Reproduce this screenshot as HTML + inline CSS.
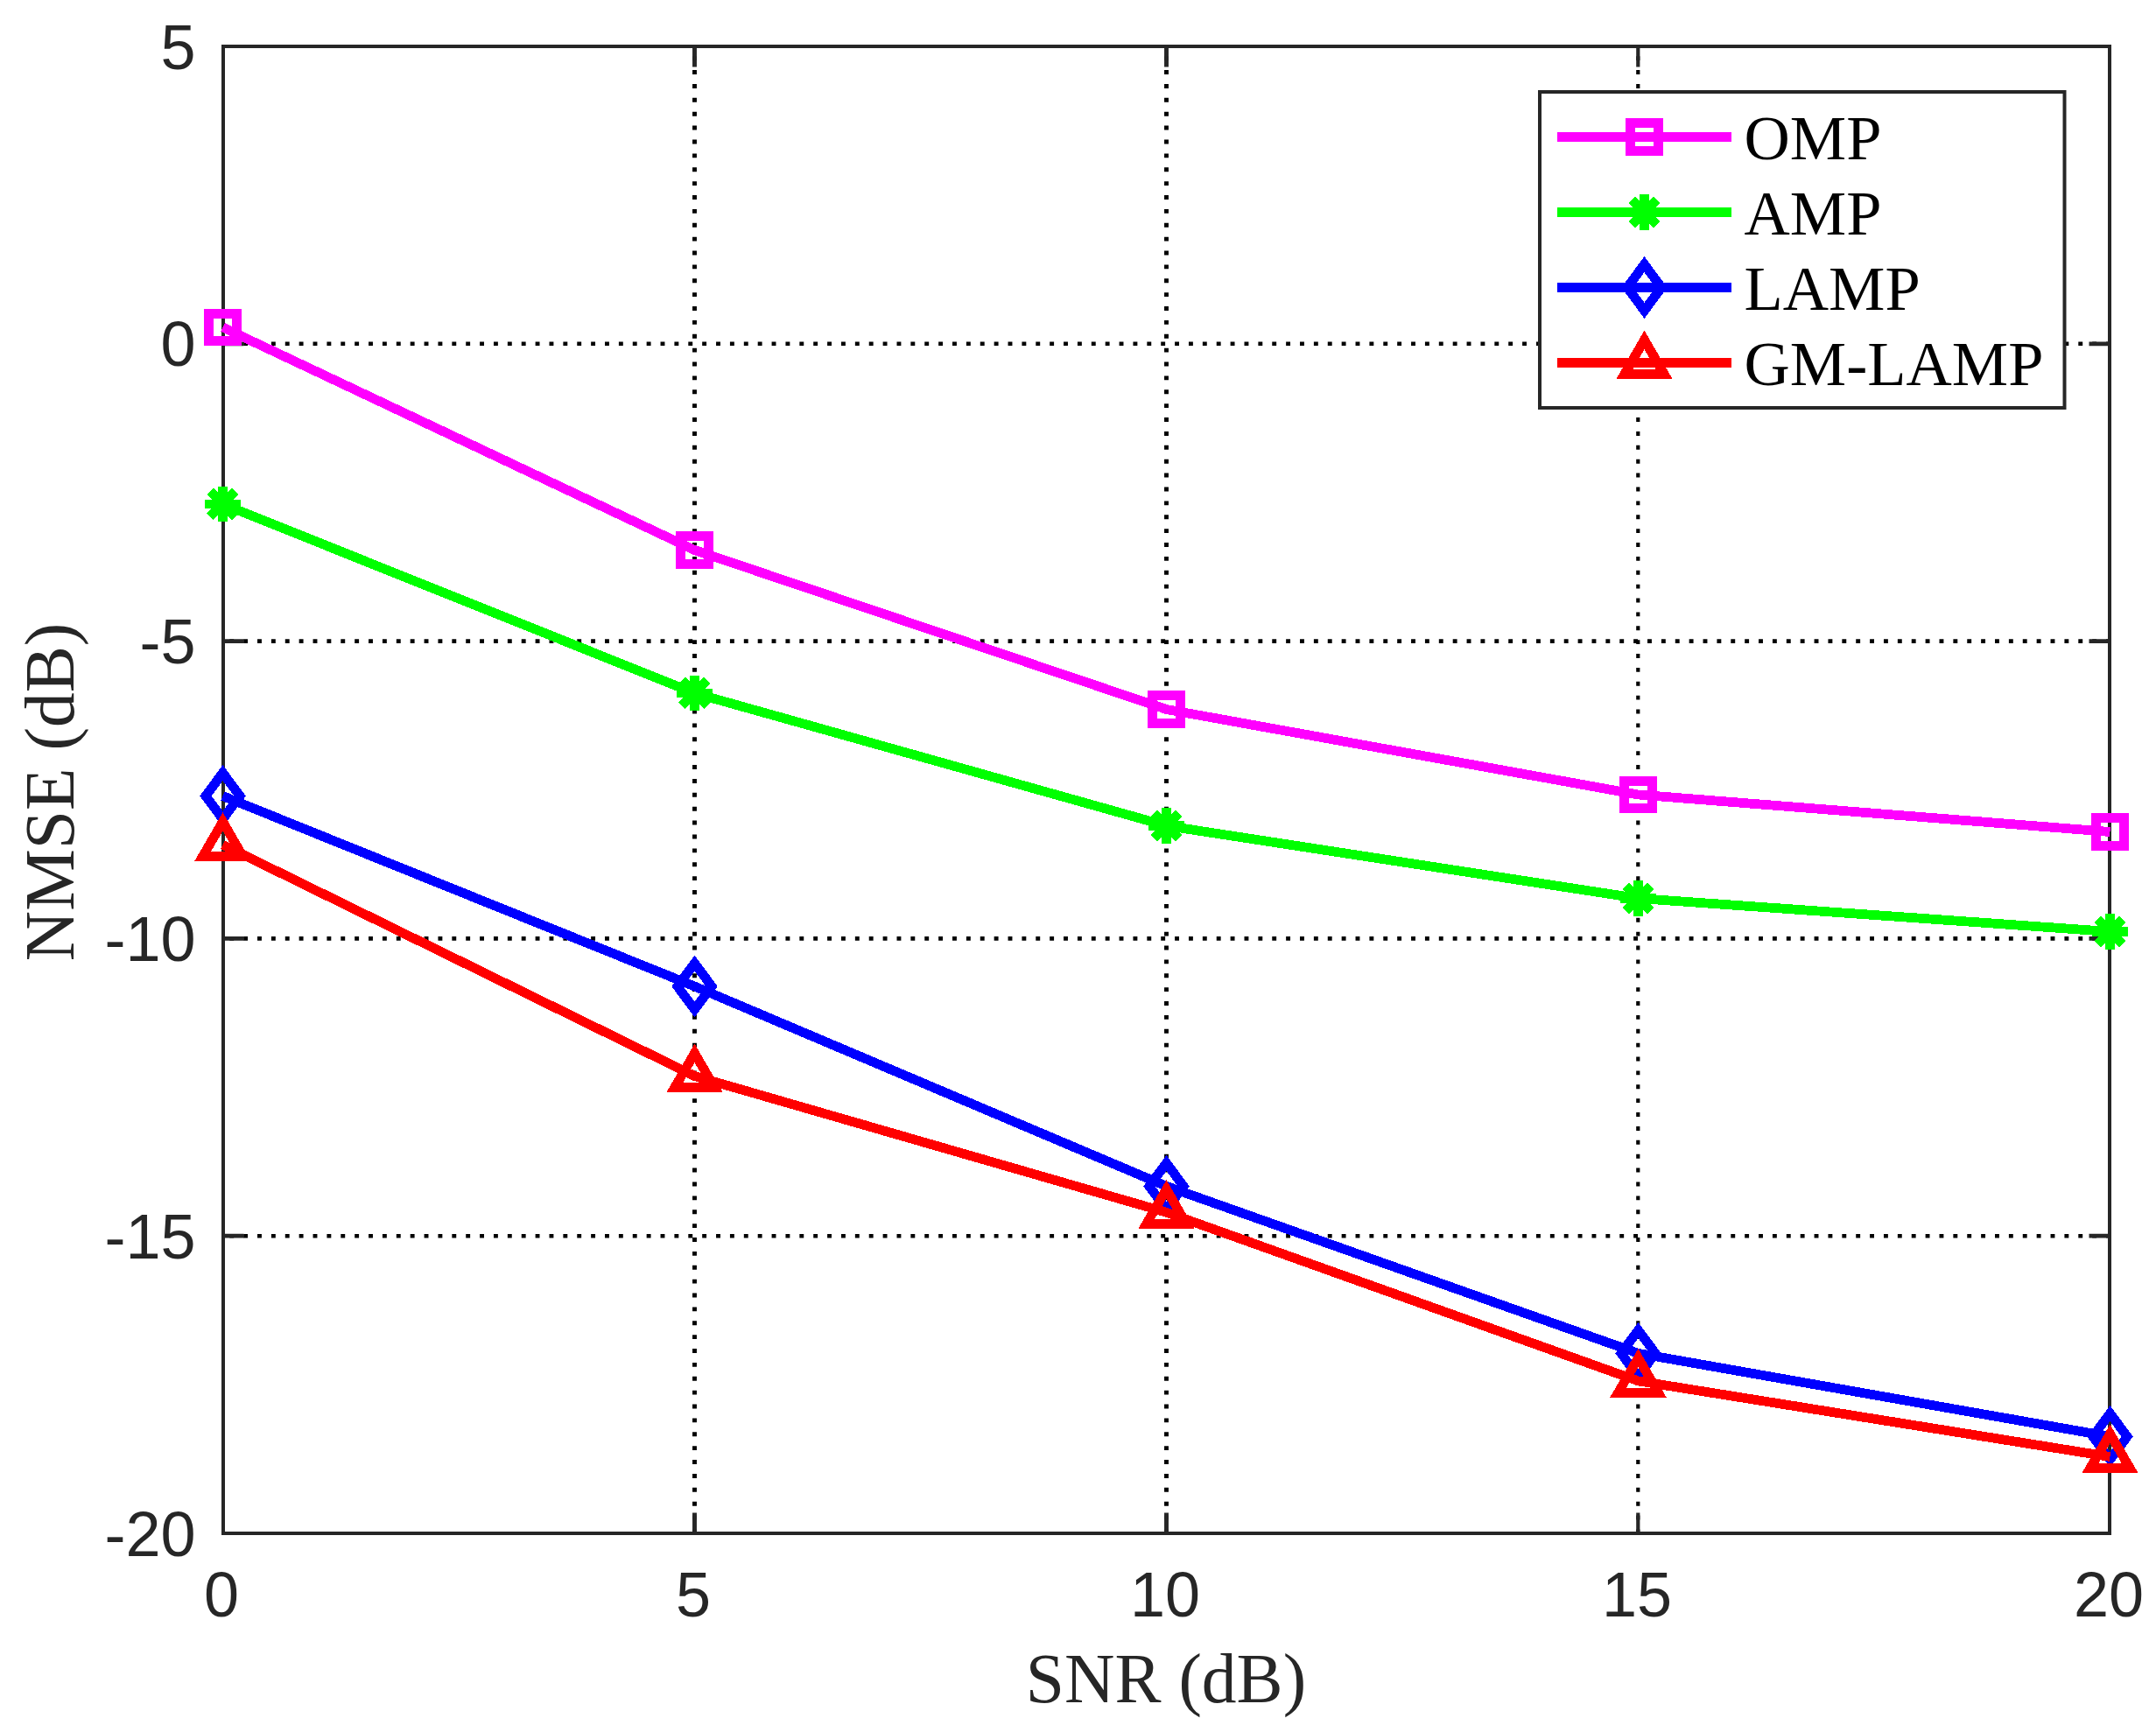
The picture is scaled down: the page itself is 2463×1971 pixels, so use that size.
<!DOCTYPE html>
<html lang="en"><head><meta charset="utf-8"><title>NMSE (dB) versus SNR (dB)</title>
<style>html,body{margin:0;padding:0;background:#fff}body{width:2463px;height:1971px;overflow:hidden}svg{display:block}.tk{font-family:"Liberation Sans",sans-serif;font-size:72px;fill:#262626}.lb{font-family:"Liberation Serif",serif;font-size:79.5px;fill:#262626}.lg{font-family:"Liberation Serif",serif;font-size:72.4px;fill:#000}</style></head><body>
<svg width="2463" height="1971" viewBox="0 0 2463 1971">
<rect width="2463" height="1971" fill="#fff"/>
<g stroke="#000" stroke-width="4.6" fill="none" stroke-dasharray="4.9 10.98">
<path d="M793.5 53V1752" stroke-dashoffset="4.66" stroke-width="4.9"/>
<path d="M1332.5 53V1752" stroke-dashoffset="4.66" stroke-width="4.9"/>
<path d="M1871.3 53V1752" stroke-dashoffset="4.66" stroke-width="4.2"/>
<path d="M255 392.8H2410" stroke-dashoffset="8.62"/>
<path d="M255 732.6H2410" stroke-dashoffset="8.62"/>
<path d="M255 1072.4H2410" stroke-dashoffset="8.62"/>
<path d="M255 1412.2H2410" stroke-dashoffset="8.62"/>
</g>
<g stroke="#262626" stroke-width="4" fill="none">
<rect x="255" y="53" width="2155" height="1699"/>
<path stroke-width="4.9" d="M793.5 53v23.5M793.5 1752v-23.5"/>
<path stroke-width="4.9" d="M1332.5 53v23.5M1332.5 1752v-23.5"/>
<path stroke-width="4.2" d="M1871.3 53v23.5M1871.3 1752v-23.5"/>
<path stroke-width="4.7" d="M255 392.8h23.5M2410 392.8h-23.5M255 732.6h23.5M2410 732.6h-23.5M255 1072.4h23.5M2410 1072.4h-23.5M255 1412.2h23.5M2410 1412.2h-23.5"/>
</g>
<g class="tk" text-anchor="end">
<text x="223.5" y="78.6">5</text>
<text x="223.5" y="418.4">0</text>
<text x="223.5" y="758.2">-5</text>
<text x="223.5" y="1098">-10</text>
<text x="223.5" y="1437.8">-15</text>
<text x="223.5" y="1777.6">-20</text>
</g>
<g class="tk" text-anchor="middle">
<text x="253.1" y="1847">0</text>
<text x="792.1" y="1847">5</text>
<text x="1331.1" y="1847">10</text>
<text x="1870.1" y="1847">15</text>
<text x="2409.1" y="1847">20</text>
</g>
<text class="lb" text-anchor="middle" x="1332" y="1945.2">SNR (dB)</text>
<text class="lb" text-anchor="middle" transform="translate(83.7 905) rotate(-90)">NMSE (dB)</text>
<g shape-rendering="crispEdges" stroke-linejoin="miter" stroke-linecap="butt">
<rect x="238.5" y="358.25" width="32" height="31.5" fill="none" stroke="#ff00ff" stroke-width="10.8"/>
<rect x="777.5" y="612.75" width="32" height="31.5" fill="none" stroke="#ff00ff" stroke-width="10.8"/>
<rect x="1316.5" y="794.75" width="32" height="31.5" fill="none" stroke="#ff00ff" stroke-width="10.8"/>
<rect x="1855.5" y="892.25" width="32" height="31.5" fill="none" stroke="#ff00ff" stroke-width="10.8"/>
<rect x="2394.5" y="934.75" width="32" height="31.5" fill="none" stroke="#ff00ff" stroke-width="10.8"/>
<polyline points="254.5,374 793.5,628.5 1332.5,810.5 1871.5,908 2410.5,950.5" fill="none" stroke="#ff00ff" stroke-width="10.8"/>
<path d="M234.2 576H274.8M254.5 555.7V596.3M240.15 561.65L268.85 590.35M240.15 590.35L268.85 561.65" fill="none" stroke="#00ff00" stroke-width="10.6"/>
<path d="M773.2 792H813.8M793.5 771.7V812.3M779.15 777.65L807.85 806.35M779.15 806.35L807.85 777.65" fill="none" stroke="#00ff00" stroke-width="10.6"/>
<path d="M1312.2 943.5H1352.8M1332.5 923.2V963.8M1318.15 929.15L1346.85 957.85M1318.15 957.85L1346.85 929.15" fill="none" stroke="#00ff00" stroke-width="10.6"/>
<path d="M1851.2 1026.5H1891.8M1871.5 1006.2V1046.8M1857.15 1012.15L1885.85 1040.85M1857.15 1040.85L1885.85 1012.15" fill="none" stroke="#00ff00" stroke-width="10.6"/>
<path d="M2390.2 1064.5H2430.8M2410.5 1044.2V1084.8M2396.15 1050.15L2424.85 1078.85M2396.15 1078.85L2424.85 1050.15" fill="none" stroke="#00ff00" stroke-width="10.6"/>
<polyline points="254.5,576 793.5,792 1332.5,943.5 1871.5,1026.5 2410.5,1064.5" fill="none" stroke="#00ff00" stroke-width="10.8"/>
<path d="M254.5 883.1L274.1 909.5L254.5 935.9L234.9 909.5Z" fill="none" stroke="#0000ff" stroke-width="10.8" stroke-miterlimit="10"/>
<path d="M793.5 1100.6L813.1 1127L793.5 1153.4L773.9 1127Z" fill="none" stroke="#0000ff" stroke-width="10.8" stroke-miterlimit="10"/>
<path d="M1332.5 1329L1352.1 1355.4L1332.5 1381.8L1312.9 1355.4Z" fill="none" stroke="#0000ff" stroke-width="10.8" stroke-miterlimit="10"/>
<path d="M1871.5 1519.9L1891.1 1546.3L1871.5 1572.7L1851.9 1546.3Z" fill="none" stroke="#0000ff" stroke-width="10.8" stroke-miterlimit="10"/>
<path d="M2410.5 1615L2430.1 1641.4L2410.5 1667.8L2390.9 1641.4Z" fill="none" stroke="#0000ff" stroke-width="10.8" stroke-miterlimit="10"/>
<polyline points="254.5,909.5 793.5,1127 1332.5,1355.4 1871.5,1546.3 2410.5,1641.4" fill="none" stroke="#0000ff" stroke-width="10.8"/>
<path d="M254.5 938.9L277.3 978.3L231.7 978.3Z" fill="none" stroke="#ff0000" stroke-width="10.8" stroke-miterlimit="10"/>
<path d="M793.5 1203.3L816.3 1242.7L770.7 1242.7Z" fill="none" stroke="#ff0000" stroke-width="10.8" stroke-miterlimit="10"/>
<path d="M1332.5 1359L1355.3 1398.4L1309.7 1398.4Z" fill="none" stroke="#ff0000" stroke-width="10.8" stroke-miterlimit="10"/>
<path d="M1871.5 1551.7L1894.3 1591.1L1848.7 1591.1Z" fill="none" stroke="#ff0000" stroke-width="10.8" stroke-miterlimit="10"/>
<path d="M2410.5 1638.3L2433.3 1677.7L2387.7 1677.7Z" fill="none" stroke="#ff0000" stroke-width="10.8" stroke-miterlimit="10"/>
<polyline points="254.5,965.1 793.5,1229.5 1332.5,1385.2 1871.5,1577.9 2410.5,1664.5" fill="none" stroke="#ff0000" stroke-width="10.8"/>
</g>
<rect x="1759" y="105" width="599.5" height="361" fill="#fff" stroke="#262626" stroke-width="4"/>
<g shape-rendering="crispEdges" stroke-linejoin="miter" stroke-linecap="butt">
<rect x="1862.5" y="140.75" width="32" height="31.5" fill="none" stroke="#ff00ff" stroke-width="10.8"/>
<path d="M1779 156.5H1978" fill="none" stroke="#ff00ff" stroke-width="10.8"/>
<path d="M1858.2 242.5H1898.8M1878.5 222.2V262.8M1864.15 228.15L1892.85 256.85M1864.15 256.85L1892.85 228.15" fill="none" stroke="#00ff00" stroke-width="10.6"/>
<path d="M1779 242.5H1978" fill="none" stroke="#00ff00" stroke-width="10.8"/>
<path d="M1878.5 302.1L1898.1 328.5L1878.5 354.9L1858.9 328.5Z" fill="none" stroke="#0000ff" stroke-width="10.8" stroke-miterlimit="10"/>
<path d="M1779 328.5H1978" fill="none" stroke="#0000ff" stroke-width="10.8"/>
<path d="M1878.5 388.3L1901.3 427.7L1855.7 427.7Z" fill="none" stroke="#ff0000" stroke-width="10.8" stroke-miterlimit="10"/>
<path d="M1779 414.5H1978" fill="none" stroke="#ff0000" stroke-width="10.8"/>
</g>
<g class="lg">
<text x="1992.6" y="182">OMP</text>
<text x="1992.6" y="268">AMP</text>
<text x="1992.6" y="354">LAMP</text>
<text x="1992.6" y="440">GM-LAMP</text>
</g>
</svg></body></html>
